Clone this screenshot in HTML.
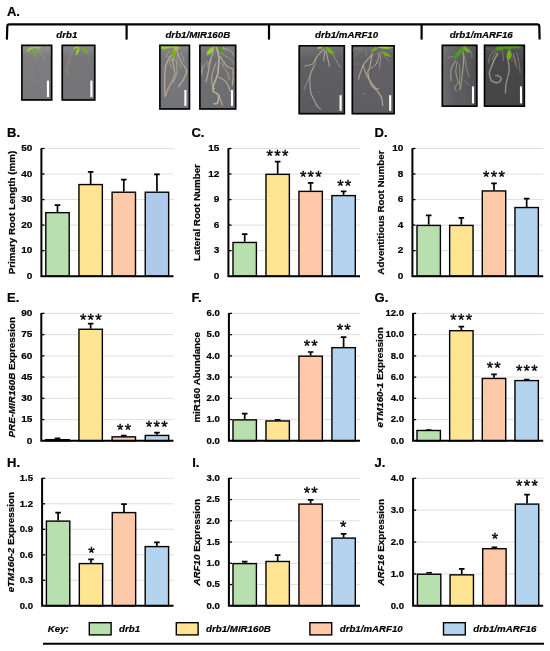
<!DOCTYPE html>
<html lang="en">
<head>
<meta charset="utf-8">
<title>Figure: drb1 root phenotypes and expression</title>
<style>
html,body{margin:0;padding:0;background:#fff;}
body{width:550px;height:651px;overflow:hidden;}
svg{display:block;}
text{font-family:"Liberation Sans",Arial,Helvetica,sans-serif;fill:#000;}
.b{font-weight:700;stroke:#000;stroke-width:0.2px;}
.bi{font-weight:700;font-style:italic;stroke:#000;stroke-width:0.2px;}
.r{font-weight:400;}
.st{font-weight:400;stroke:#000;stroke-width:0.35px;}
</style>
</head>
<body>
<svg width="550" height="651" viewBox="0 0 550 651">
<rect x="0" y="0" width="550" height="651" fill="#fff"/>
<text class="b" transform="translate(6.90,16.20) scale(1.0,1)" font-size="13.0" text-anchor="start">A.</text>
<path d="M6.9 39.6 L7.3 26.2 Q7.4 24.4 9.2 24.4 H537.4 Q539.2 24.4 539.3 26.2 L539.6 39.6" fill="none" stroke="#000" stroke-width="2.2"/>
<path d="M126.6 24.4 V39.6" stroke="#000" stroke-width="2.2" fill="none"/>
<path d="M269.0 24.4 V39.6" stroke="#000" stroke-width="2.2" fill="none"/>
<path d="M421.6 24.4 V39.6" stroke="#000" stroke-width="2.2" fill="none"/>
<text class="bi" transform="translate(66.80,38.40) scale(0.99,1)" font-size="9.8" text-anchor="middle">drb1</text>
<text class="bi" transform="translate(197.80,38.40) scale(0.99,1)" font-size="9.8" text-anchor="middle">drb1/MIR160B</text>
<text class="bi" transform="translate(346.60,38.40) scale(0.99,1)" font-size="9.8" text-anchor="middle">drb1/mARF10</text>
<text class="bi" transform="translate(481.20,38.40) scale(0.99,1)" font-size="9.8" text-anchor="middle">drb1/mARF16</text>
<defs>
<linearGradient id="pg0" x1="0" y1="0" x2="0" y2="1"><stop offset="0" stop-color="#939395"/><stop offset="0.22" stop-color="#7d7d80"/><stop offset="1" stop-color="#79797c"/></linearGradient>
<clipPath id="pc0"><rect x="21.1" y="44.6" width="31.30" height="56.10"/></clipPath>
<linearGradient id="pg1" x1="0" y1="0" x2="0" y2="1"><stop offset="0" stop-color="#8b8a8c"/><stop offset="0.22" stop-color="#767578"/><stop offset="1" stop-color="#747376"/></linearGradient>
<clipPath id="pc1"><rect x="61.5" y="44.6" width="34.00" height="56.10"/></clipPath>
<linearGradient id="pg2" x1="0" y1="0" x2="0" y2="1"><stop offset="0" stop-color="#87888b"/><stop offset="0.2" stop-color="#77787b"/><stop offset="1" stop-color="#737477"/></linearGradient>
<clipPath id="pc2"><rect x="159.1" y="44.6" width="31.10" height="65.10"/></clipPath>
<linearGradient id="pg3" x1="0" y1="0" x2="0" y2="1"><stop offset="0" stop-color="#7e7f82"/><stop offset="0.2" stop-color="#6f7074"/><stop offset="1" stop-color="#6c6d71"/></linearGradient>
<clipPath id="pc3"><rect x="199.1" y="44.6" width="37.30" height="65.10"/></clipPath>
<linearGradient id="pg4" x1="0" y1="0" x2="0" y2="1"><stop offset="0" stop-color="#757578"/><stop offset="0.2" stop-color="#606064"/><stop offset="1" stop-color="#5b5b5f"/></linearGradient>
<clipPath id="pc4"><rect x="298.5" y="45.0" width="46.60" height="69.40"/></clipPath>
<linearGradient id="pg5" x1="0" y1="0" x2="0" y2="1"><stop offset="0" stop-color="#717174"/><stop offset="0.2" stop-color="#626266"/><stop offset="1" stop-color="#5e5e62"/></linearGradient>
<clipPath id="pc5"><rect x="351.6" y="45.0" width="43.30" height="69.40"/></clipPath>
<linearGradient id="pg6" x1="0" y1="0" x2="0" y2="1"><stop offset="0" stop-color="#646568"/><stop offset="0.35" stop-color="#58595c"/><stop offset="1" stop-color="#5c5d5f"/></linearGradient>
<clipPath id="pc6"><rect x="441.6" y="44.6" width="35.90" height="62.30"/></clipPath>
<linearGradient id="pg7" x1="0" y1="0" x2="0" y2="1"><stop offset="0" stop-color="#56565a"/><stop offset="0.25" stop-color="#48484b"/><stop offset="1" stop-color="#454548"/></linearGradient>
<clipPath id="pc7"><rect x="483.8" y="44.6" width="41.30" height="62.30"/></clipPath>
<linearGradient id="hov" x1="0" y1="0" x2="1" y2="0"><stop offset="0" stop-color="#fff" stop-opacity="0.14"/><stop offset="0.45" stop-color="#888" stop-opacity="0"/><stop offset="1" stop-color="#000" stop-opacity="0.16"/></linearGradient>
<filter id="bl" x="-20%" y="-20%" width="140%" height="140%"><feTurbulence type="fractalNoise" baseFrequency="0.22" numOctaves="2" seed="7" result="n"/><feDisplacementMap in="SourceGraphic" in2="n" scale="1.8" xChannelSelector="R" yChannelSelector="G" result="d"/><feGaussianBlur in="d" stdDeviation="0.38"/></filter>
</defs>
<rect x="21.1" y="44.6" width="31.30" height="56.10" fill="url(#pg0)"/>
<g clip-path="url(#pc0)"><g transform="translate(21.1,44.6)" filter="url(#bl)">
<path d="M15.9 5 Q21.5 9 25.4 17.9" fill="none" stroke="#c4b396" stroke-width="0.70" stroke-opacity="0.45" stroke-linecap="round" stroke-linejoin="round"/>
<path d="M10.2 11.7 Q7.6 14 5.9 17.4" fill="none" stroke="#c4b396" stroke-width="0.60" stroke-opacity="0.35" stroke-linecap="round" stroke-linejoin="round"/>
<path d="M12.6 13 Q11.8 26 12.6 42" fill="none" stroke="#c4b396" stroke-width="0.50" stroke-opacity="0.15" stroke-linecap="round" stroke-linejoin="round"/>
<path d="M5.9 7.4 Q6.2 4.4 9.2 3 Q11.5 2.2 13 2.8 Q10 4.2 5.9 7.4Z" fill="#9ad22e" stroke="#9ad22e" stroke-width="0.7" stroke-linejoin="round"/>
<path d="M12.4 3.6 Q15.4 7.6 14.6 12.8 Q12.2 9.4 12.4 3.6Z" fill="#74b020" stroke="#74b020" stroke-width="0.7" stroke-linejoin="round"/>
<path d="M12.8 2.8 Q16.5 1.8 19.8 3.4 Q16.8 4.2 12.8 2.8Z" fill="#9ad22e" stroke="#9ad22e" stroke-width="0.7" stroke-linejoin="round"/>
</g></g>
<rect x="46.90" y="80.6" width="2.1" height="16.40" fill="#fff"/>
<rect x="21.90" y="45.40" width="29.70" height="54.50" fill="none" stroke="#050505" stroke-width="1.6"/>
<rect x="61.5" y="44.6" width="34.00" height="56.10" fill="url(#pg1)"/>
<g clip-path="url(#pc1)"><g transform="translate(61.5,44.6)" filter="url(#bl)">
<path d="M10.7 6.7 Q7 13 5.9 21 Q5.2 25 5.4 27.6 Q5.6 29 6.6 29.2" fill="none" stroke="#c4b396" stroke-width="0.80" stroke-opacity="0.45" stroke-linecap="round" stroke-linejoin="round"/>
<path d="M12.5 5 Q9.6 12 8.6 22" fill="none" stroke="#c4b396" stroke-width="0.50" stroke-opacity="0.22" stroke-linecap="round" stroke-linejoin="round"/>
<path d="M2.4 8 Q2.8 12 2.4 15" fill="none" stroke="#c4b396" stroke-width="0.50" stroke-opacity="0.20" stroke-linecap="round" stroke-linejoin="round"/>
<path d="M12 3.8 Q14 2 17.6 2 Q15.4 3.8 12 3.8Z" fill="#9ad22e" stroke="#9ad22e" stroke-width="0.7" stroke-linejoin="round"/>
<path d="M17.8 2.9 Q18 7 14.5 10.5 Q14.4 6 17.8 2.9Z" fill="#9ad22e" stroke="#9ad22e" stroke-width="0.7" stroke-linejoin="round"/>
<path d="M19.7 2.4 Q24.6 4 27.3 9.5 Q22.5 8 19.7 2.4Z" fill="#74b020" stroke="#74b020" stroke-width="0.7" stroke-linejoin="round"/>
</g></g>
<rect x="90.35" y="80.6" width="2.1" height="16.40" fill="#fff"/>
<rect x="62.30" y="45.40" width="32.40" height="54.50" fill="none" stroke="#050505" stroke-width="1.6"/>
<rect x="159.1" y="44.6" width="31.10" height="65.10" fill="url(#pg2)"/>
<g clip-path="url(#pc2)"><g transform="translate(159.1,44.6)" filter="url(#bl)">
<path d="M16 2.7 Q15.6 9 14.6 15.6" fill="none" stroke="#c4b396" stroke-width="1.60" stroke-opacity="0.90" stroke-linecap="round" stroke-linejoin="round"/>
<path d="M12.6 10.6 Q8.4 15 6.3 22 Q5.2 32 5.6 40.3 Q5.6 46 6.1 52" fill="none" stroke="#c4b396" stroke-width="1.20" stroke-opacity="0.90" stroke-linecap="round" stroke-linejoin="round"/>
<path d="M13.1 15 Q15.2 22 15.8 29.6 Q14 36 9.9 42.5 Q7.6 47 6.7 51" fill="none" stroke="#c4b396" stroke-width="1.20" stroke-opacity="0.85" stroke-linecap="round" stroke-linejoin="round"/>
<path d="M17.4 5 Q19 10 20.6 14 Q22 17 22.8 18.8 Q26 22 27.6 26.3 Q27 30 24.9 33.9 Q22.6 38 19.6 41.9" fill="none" stroke="#c4b396" stroke-width="1.30" stroke-opacity="0.85" stroke-linecap="round" stroke-linejoin="round"/>
<path d="M16.9 16 Q18.2 22 18 27.4 Q16.8 33 14.2 38.2" fill="none" stroke="#c4b396" stroke-width="1.00" stroke-opacity="0.75" stroke-linecap="round" stroke-linejoin="round"/>
<path d="M10.4 6.6 Q7.8 9 7 13" fill="none" stroke="#c4b396" stroke-width="0.90" stroke-opacity="0.60" stroke-linecap="round" stroke-linejoin="round"/>
<path d="M21.4 8 Q24.6 12 25.4 18" fill="none" stroke="#c4b396" stroke-width="0.90" stroke-opacity="0.60" stroke-linecap="round" stroke-linejoin="round"/>
<path d="M14.6 12 Q11.4 14 10.2 18 Q11.6 22 13.4 24" fill="none" stroke="#c4b396" stroke-width="0.90" stroke-opacity="0.70" stroke-linecap="round" stroke-linejoin="round"/>
<path d="M18.4 10 Q17 14 18.6 18 Q21 20 22 24" fill="none" stroke="#c4b396" stroke-width="0.90" stroke-opacity="0.65" stroke-linecap="round" stroke-linejoin="round"/>
<path d="M9 13 Q10.8 11 12.6 10.6" fill="none" stroke="#c4b396" stroke-width="0.90" stroke-opacity="0.65" stroke-linecap="round" stroke-linejoin="round"/>
<path d="M1.6 2.6 Q2.4 1.2 6 1.6 Q9 2 13.1 1.8 Q17 1.2 19.6 2.2 Q20.6 4 18.4 4.6 Q16.6 3.2 13 3 Q8 3.2 5.6 4.4 Q2.6 4.6 1.6 2.6Z" fill="#9ad22e" stroke="#9ad22e" stroke-width="0.7" stroke-linejoin="round"/>
<path d="M13.2 5.2 Q16.4 5.6 16.4 9.2 Q15.8 12.8 14.4 13.8 Q12.4 10 13.2 5.2Z" fill="#74b020" stroke="#74b020" stroke-width="0.7" stroke-linejoin="round"/>
</g></g>
<rect x="184.35" y="90.0" width="2.1" height="16.00" fill="#fff"/>
<rect x="159.90" y="45.40" width="29.50" height="63.50" fill="none" stroke="#050505" stroke-width="1.6"/>
<rect x="199.1" y="44.6" width="37.30" height="65.10" fill="url(#pg3)"/>
<g clip-path="url(#pc3)"><g transform="translate(199.1,44.6)" filter="url(#bl)">
<path d="M17.2 2.7 Q19.6 8 19.9 13.4 Q19.6 21 18.8 28.5 Q17 35 14.5 40.3 Q13.6 44 14 46.8 Q17.4 48 19.9 51 Q19.6 55 18.3 58.6 Q16.4 59.6 15 59" fill="none" stroke="#c4b396" stroke-width="1.60" stroke-opacity="0.92" stroke-linecap="round" stroke-linejoin="round"/>
<path d="M19.9 51 Q22 56 23.1 60.8" fill="none" stroke="#c4b396" stroke-width="1.20" stroke-opacity="0.80" stroke-linecap="round" stroke-linejoin="round"/>
<path d="M14.6 5 Q11 16 9.7 24.2 Q8.6 31 7 37" fill="none" stroke="#c4b396" stroke-width="1.20" stroke-opacity="0.85" stroke-linecap="round" stroke-linejoin="round"/>
<path d="M8.6 16.7 Q5 20 3.2 24.2 Q2.6 28 2.7 30.6" fill="none" stroke="#c4b396" stroke-width="1.00" stroke-opacity="0.75" stroke-linecap="round" stroke-linejoin="round"/>
<path d="M16.7 18.8 Q13.6 26 12.4 32.8 Q12.6 39 14 44.6" fill="none" stroke="#c4b396" stroke-width="1.10" stroke-opacity="0.80" stroke-linecap="round" stroke-linejoin="round"/>
<path d="M21 12 Q24 18 28 22 Q31 24 33.9 24.2 Q34.4 32 33.3 40.3" fill="none" stroke="#c4b396" stroke-width="1.20" stroke-opacity="0.85" stroke-linecap="round" stroke-linejoin="round"/>
<path d="M23.7 3.8 Q28 4 31.2 5.9 Q33.6 8 35 11.3" fill="none" stroke="#c4b396" stroke-width="1.00" stroke-opacity="0.75" stroke-linecap="round" stroke-linejoin="round"/>
<path d="M19.4 32.8 Q23.6 34 26.9 37 Q29.6 41 31.2 46.8" fill="none" stroke="#c4b396" stroke-width="1.10" stroke-opacity="0.80" stroke-linecap="round" stroke-linejoin="round"/>
<path d="M22.6 18.8 Q26 24 29 29.6 Q30 33 30.2 35" fill="none" stroke="#c4b396" stroke-width="1.00" stroke-opacity="0.70" stroke-linecap="round" stroke-linejoin="round"/>
<path d="M2 18 Q3 22 2.2 27" fill="none" stroke="#c4b396" stroke-width="0.90" stroke-opacity="0.55" stroke-linecap="round" stroke-linejoin="round"/>
<path d="M21 8 Q26 12 31 14 Q34 16 35 20" fill="none" stroke="#c4b396" stroke-width="0.90" stroke-opacity="0.60" stroke-linecap="round" stroke-linejoin="round"/>
<path d="M12 14 Q9 18 8.4 22" fill="none" stroke="#c4b396" stroke-width="0.90" stroke-opacity="0.60" stroke-linecap="round" stroke-linejoin="round"/>
<path d="M8 10.4 Q7.2 5.6 14.7 1.8 Q15 7.6 8 10.4Z" fill="#9ad22e" stroke="#9ad22e" stroke-width="0.7" stroke-linejoin="round"/>
<path d="M19.9 2.6 Q24.2 3.4 24 8.4 Q20 7.2 19.9 2.6Z" fill="#4f9a1c" stroke="#4f9a1c" stroke-width="0.7" stroke-linejoin="round"/>
</g></g>
<rect x="230.95" y="90.0" width="2.1" height="16.00" fill="#fff"/>
<rect x="199.90" y="45.40" width="35.70" height="63.50" fill="none" stroke="#050505" stroke-width="1.6"/>
<rect x="298.5" y="45.0" width="46.60" height="69.40" fill="url(#pg4)"/>
<g clip-path="url(#pc4)"><g transform="translate(298.5,45.0)" filter="url(#bl)">
<path d="M25.1 3.8 Q21.6 8 18.2 11.9 Q16 15 14.8 18.8" fill="none" stroke="#bbad97" stroke-width="1.10" stroke-opacity="0.85" stroke-linecap="round" stroke-linejoin="round"/>
<path d="M14.8 18.8 Q10 20.6 6.1 21.1" fill="none" stroke="#bbad97" stroke-width="1.00" stroke-opacity="0.80" stroke-linecap="round" stroke-linejoin="round"/>
<path d="M15.9 20 Q13 26 11.3 31.5 Q11 40 12.5 48.8 Q15.6 56 20 62.6 Q21 63.4 22.2 64" fill="none" stroke="#bbad97" stroke-width="1.10" stroke-opacity="0.85" stroke-linecap="round" stroke-linejoin="round"/>
<path d="M11.3 31.5 Q8 38 5.5 44.2" fill="none" stroke="#bbad97" stroke-width="0.90" stroke-opacity="0.70" stroke-linecap="round" stroke-linejoin="round"/>
<path d="M26.3 5 Q25.6 11 25.1 16.5" fill="none" stroke="#bbad97" stroke-width="1.10" stroke-opacity="0.85" stroke-linecap="round" stroke-linejoin="round"/>
<path d="M27.5 6.1 Q29.4 14 30.9 21.1" fill="none" stroke="#bbad97" stroke-width="1.10" stroke-opacity="0.85" stroke-linecap="round" stroke-linejoin="round"/>
<path d="M34.4 9.6 Q38 16 41.9 22.3" fill="none" stroke="#bbad97" stroke-width="0.90" stroke-opacity="0.75" stroke-linecap="round" stroke-linejoin="round"/>
<path d="M18 13 Q16.6 16 17.4 19" fill="none" stroke="#bbad97" stroke-width="0.80" stroke-opacity="0.60" stroke-linecap="round" stroke-linejoin="round"/>
<path d="M18.8 3.2 Q20.6 1.2 25.1 1.5 Q22.8 4 18.8 3.2Z" fill="#9ad22e" stroke="#9ad22e" stroke-width="0.7" stroke-linejoin="round"/>
<path d="M26.5 1.8 Q31 1.8 35.6 8.2 Q33 9.4 30 7 Q27.6 4.6 26.5 1.8Z" fill="#74b020" stroke="#74b020" stroke-width="0.7" stroke-linejoin="round"/>
</g></g>
<rect x="339.55" y="95.2" width="2.1" height="15.60" fill="#fff"/>
<rect x="299.30" y="45.80" width="45.00" height="67.80" fill="none" stroke="#050505" stroke-width="1.6"/>
<rect x="351.6" y="45.0" width="43.30" height="69.40" fill="url(#pg5)"/>
<g clip-path="url(#pc5)"><g transform="translate(351.6,45.0)" filter="url(#bl)">
<path d="M21.3 8.7 Q16 14 11.5 20.2 Q8.6 27 6.9 34" fill="none" stroke="#bbad97" stroke-width="1.20" stroke-opacity="0.85" stroke-linecap="round" stroke-linejoin="round"/>
<path d="M20.2 9.8 Q19.2 17 17.9 23.6 Q16.4 25.6 16.1 27.1 Q17 34 19.6 39.8 Q22 43 25.4 45.6 Q28 49 30 52.5 Q30.8 57 31.1 60.6" fill="none" stroke="#bbad97" stroke-width="1.20" stroke-opacity="0.90" stroke-linecap="round" stroke-linejoin="round"/>
<path d="M11.5 20.2 Q13 26 15 30.6 Q19 37 24.2 43.3 Q25.6 43.8 26.8 43.6" fill="none" stroke="#bbad97" stroke-width="1.10" stroke-opacity="0.85" stroke-linecap="round" stroke-linejoin="round"/>
<path d="M27.7 7.5 Q27 13 25.4 17.9 Q23 21 19.6 23.6" fill="none" stroke="#bbad97" stroke-width="1.00" stroke-opacity="0.80" stroke-linecap="round" stroke-linejoin="round"/>
<path d="M29.4 8.7 Q28.6 16 27.7 23.6" fill="none" stroke="#bbad97" stroke-width="0.90" stroke-opacity="0.70" stroke-linecap="round" stroke-linejoin="round"/>
<path d="M2.2 4 Q6 3.6 10.4 2.8" fill="none" stroke="#bbad97" stroke-width="0.70" stroke-opacity="0.40" stroke-linecap="round" stroke-linejoin="round"/>
<path d="M2.2 12 Q6 8 9.2 4" fill="none" stroke="#bbad97" stroke-width="0.70" stroke-opacity="0.40" stroke-linecap="round" stroke-linejoin="round"/>
<path d="M2.2 19 Q4.6 19.2 7 19" fill="none" stroke="#bbad97" stroke-width="0.70" stroke-opacity="0.35" stroke-linecap="round" stroke-linejoin="round"/>
<path d="M14 4 Q14.4 8 15 11" fill="none" stroke="#bbad97" stroke-width="0.70" stroke-opacity="0.40" stroke-linecap="round" stroke-linejoin="round"/>
<path d="M32 11 Q35 13 37.4 16" fill="none" stroke="#bbad97" stroke-width="0.80" stroke-opacity="0.55" stroke-linecap="round" stroke-linejoin="round"/>
<circle cx="12.1" cy="49" r="0.8" fill="#c4b396" fill-opacity="0.7"/>
<path d="M19.6 6.2 Q21 3 26 2.8 Q24.4 6.2 19.6 6.2Z" fill="#74b020" stroke="#74b020" stroke-width="0.7" stroke-linejoin="round"/>
<path d="M26.5 2.2 Q33 0.8 41.2 2.6 Q34 4.6 26.5 2.2Z" fill="#9ad22e" stroke="#9ad22e" stroke-width="0.7" stroke-linejoin="round"/>
<path d="M30 6.6 Q35 7 39.4 11.6 Q33.4 11.4 30 6.6Z" fill="#74b020" stroke="#74b020" stroke-width="0.7" stroke-linejoin="round"/>
<path d="M1.4 4 Q2.6 5 1.6 6.6Z" fill="#74b020" stroke="#74b020" stroke-width="0.7" stroke-linejoin="round"/>
</g></g>
<rect x="389.15" y="95.2" width="2.1" height="15.60" fill="#fff"/>
<rect x="352.40" y="45.80" width="41.70" height="67.80" fill="none" stroke="#050505" stroke-width="1.6"/>
<rect x="441.6" y="44.6" width="35.90" height="62.30" fill="url(#pg6)"/>
<rect x="441.6" y="44.6" width="35.90" height="62.30" fill="url(#hov)"/>
<g clip-path="url(#pc6)"><g transform="translate(441.6,44.6)" filter="url(#bl)">
<path d="M21.4 6.8 Q22.2 12 21.9 18.3 Q21.4 25 20.4 31.9 Q19.6 38 18.8 44.4" fill="none" stroke="#b3a792" stroke-width="1.10" stroke-opacity="0.85" stroke-linecap="round" stroke-linejoin="round"/>
<path d="M14.1 16.2 Q11 20 9.4 24.6 Q8.8 30 9.4 36" fill="none" stroke="#b3a792" stroke-width="1.10" stroke-opacity="0.80" stroke-linecap="round" stroke-linejoin="round"/>
<path d="M15.7 17.2 Q14.4 22 14.1 27.7 Q15 33 16.7 37.1 Q15 40 13.2 43 Q13.6 45 14.6 46.5" fill="none" stroke="#b3a792" stroke-width="1.00" stroke-opacity="0.80" stroke-linecap="round" stroke-linejoin="round"/>
<path d="M22.5 11 Q24 17 24.6 23.5 Q26 28 27.7 31.9" fill="none" stroke="#b3a792" stroke-width="0.90" stroke-opacity="0.70" stroke-linecap="round" stroke-linejoin="round"/>
<path d="M24.6 4.7 Q28 5.6 29.8 7.8 Q30.6 10 30.3 13" fill="none" stroke="#b3a792" stroke-width="0.80" stroke-opacity="0.60" stroke-linecap="round" stroke-linejoin="round"/>
<path d="M6.8 13 Q9.4 12 12 12" fill="none" stroke="#b3a792" stroke-width="0.80" stroke-opacity="0.55" stroke-linecap="round" stroke-linejoin="round"/>
<path d="M22.5 36 Q25 38 27.7 40.2" fill="none" stroke="#b3a792" stroke-width="0.80" stroke-opacity="0.55" stroke-linecap="round" stroke-linejoin="round"/>
<path d="M17.8 20 Q19 30 17.6 40" fill="none" stroke="#b3a792" stroke-width="0.90" stroke-opacity="0.65" stroke-linecap="round" stroke-linejoin="round"/>
<path d="M18 38 Q18.6 42 18.2 46" fill="none" stroke="#b3a792" stroke-width="0.80" stroke-opacity="0.60" stroke-linecap="round" stroke-linejoin="round"/>
<path d="M13 14.8 Q12.4 10 17 6 Q20 3.6 22.4 3 Q21 8.6 13 14.8Z" fill="#4f9a1c" stroke="#4f9a1c" stroke-width="0.7" stroke-linejoin="round"/>
<path d="M20.9 2 Q25 2.4 28.9 7.2 Q26 8.4 23.4 6 Q21.6 4 20.9 2Z" fill="#74b020" stroke="#74b020" stroke-width="0.7" stroke-linejoin="round"/>
</g></g>
<rect x="471.95" y="86.4" width="2.1" height="17.00" fill="#fff"/>
<rect x="442.40" y="45.40" width="34.30" height="60.70" fill="none" stroke="#050505" stroke-width="1.6"/>
<rect x="483.8" y="44.6" width="41.30" height="62.30" fill="url(#pg7)"/>
<g clip-path="url(#pc7)"><g transform="translate(483.8,44.6)" filter="url(#bl)">
<path d="M13.9 8.9 Q10 15 7.6 22.4 Q5.8 25.6 5.5 28.7 Q5.8 33 7.6 36 Q10.6 38.4 13.9 38.1 Q16.8 37 17.5 35 Q17.6 33.4 16.5 32.4 Q14 31 11.8 30.8" fill="none" stroke="#a99d8a" stroke-width="1.40" stroke-opacity="0.85" stroke-linecap="round" stroke-linejoin="round"/>
<path d="M24.3 16.2 Q25.4 21 25.4 26.6 Q24 33 22.2 39.1 Q21.6 44 21.7 48.5" fill="none" stroke="#a99d8a" stroke-width="1.30" stroke-opacity="0.85" stroke-linecap="round" stroke-linejoin="round"/>
<path d="M9.7 6.8 Q6.8 9.6 5.5 13 Q4.8 16 5 18.3" fill="none" stroke="#a99d8a" stroke-width="1.00" stroke-opacity="0.65" stroke-linecap="round" stroke-linejoin="round"/>
<path d="M11.8 7.8 Q9.4 11 8.1 15.1" fill="none" stroke="#a99d8a" stroke-width="1.00" stroke-opacity="0.65" stroke-linecap="round" stroke-linejoin="round"/>
<path d="M29.5 8.9 Q31 14 31.6 20.4" fill="none" stroke="#a99d8a" stroke-width="1.00" stroke-opacity="0.65" stroke-linecap="round" stroke-linejoin="round"/>
<path d="M32.7 7.8 Q34.2 11 34.8 15.1 Q36 21 36.3 27.7" fill="none" stroke="#a99d8a" stroke-width="0.90" stroke-opacity="0.55" stroke-linecap="round" stroke-linejoin="round"/>
<path d="M18.6 6.8 Q19.4 11 19.6 16.2" fill="none" stroke="#a99d8a" stroke-width="0.90" stroke-opacity="0.60" stroke-linecap="round" stroke-linejoin="round"/>
<path d="M27.6 9 Q28.6 13 28.2 17" fill="none" stroke="#a99d8a" stroke-width="0.90" stroke-opacity="0.55" stroke-linecap="round" stroke-linejoin="round"/>
<path d="M3 3.6 Q8 5.6 13 6.4" fill="none" stroke="#a99d8a" stroke-width="0.80" stroke-opacity="0.45" stroke-linecap="round" stroke-linejoin="round"/>
<path d="M30.4 12 Q33 18 33.4 24" fill="none" stroke="#a99d8a" stroke-width="0.80" stroke-opacity="0.45" stroke-linecap="round" stroke-linejoin="round"/>
<path d="M11.6 4.4 Q13 1.6 17 1.8 Q20.6 2 21.4 3.4 Q19 5.6 15.6 5.6 Q12.6 5.8 11.6 4.4Z" fill="#4f9a1c" stroke="#4f9a1c" stroke-width="0.7" stroke-linejoin="round"/>
<path d="M20.4 1.8 Q24 0.4 29 1.2 Q34 0.6 37.2 2 Q35 3.8 30 3.4 Q26 5 22.6 4.2 Q20.6 3.4 20.4 1.8Z" fill="#4f9a1c" stroke="#4f9a1c" stroke-width="0.7" stroke-linejoin="round"/>
<path d="M25.6 4.8 Q28.4 9 26.6 13.4 Q25.4 15.6 24 15.4 Q22.2 12 23.6 8.6 Q24.6 6.4 25.6 4.8Z" fill="#74b020" stroke="#74b020" stroke-width="0.7" stroke-linejoin="round"/>
</g></g>
<rect x="519.95" y="86.4" width="2.1" height="17.00" fill="#fff"/>
<rect x="484.60" y="45.40" width="39.70" height="60.70" fill="none" stroke="#050505" stroke-width="1.6"/>
<text class="b" transform="translate(7.00,137.20) scale(1.0,1)" font-size="13.0" text-anchor="start">B.</text>
<path d="M41.4 250.66 H173.5" stroke="#dbdbdb" stroke-width="0.9" fill="none"/>
<path d="M41.4 225.12 H173.5" stroke="#dbdbdb" stroke-width="0.9" fill="none"/>
<path d="M41.4 199.58 H173.5" stroke="#dbdbdb" stroke-width="0.9" fill="none"/>
<path d="M41.4 174.04 H173.5" stroke="#dbdbdb" stroke-width="0.9" fill="none"/>
<path d="M41.4 148.50 H173.5" stroke="#dbdbdb" stroke-width="0.9" fill="none"/>
<path d="M57.50 212.05 V204.39 M54.70 205.09 H60.30" stroke="#000" stroke-width="1.7" fill="none"/>
<rect x="45.80" y="212.65" width="23.4" height="63.55" fill="#b7e0ae" stroke="#000" stroke-width="1.4"/>
<path d="M90.65 183.96 V171.19 M87.85 171.89 H93.45" stroke="#000" stroke-width="1.7" fill="none"/>
<rect x="78.95" y="184.56" width="23.4" height="91.64" fill="#ffe591" stroke="#000" stroke-width="1.4"/>
<path d="M123.80 191.62 V178.85 M121.00 179.55 H126.60" stroke="#000" stroke-width="1.7" fill="none"/>
<rect x="112.10" y="192.22" width="23.4" height="83.98" fill="#fdc9a9" stroke="#000" stroke-width="1.4"/>
<path d="M156.95 191.62 V173.74 M154.15 174.44 H159.75" stroke="#000" stroke-width="1.7" fill="none"/>
<rect x="145.25" y="192.22" width="23.4" height="83.98" fill="#aec9ea" stroke="#000" stroke-width="1.4"/>
<path d="M41.4 148.20 V276.20 H173.5" stroke="#000" stroke-width="2.0" fill="none" stroke-linejoin="miter"/>
<text class="b" transform="translate(32.40,278.95) scale(1.14,1)" font-size="8.8" text-anchor="end">0</text>
<path d="M41.4 250.66 h3.1" stroke="#000" stroke-width="1.3" fill="none"/>
<text class="b" transform="translate(32.40,253.41) scale(1.14,1)" font-size="8.8" text-anchor="end">10</text>
<path d="M41.4 225.12 h3.1" stroke="#000" stroke-width="1.3" fill="none"/>
<text class="b" transform="translate(32.40,227.87) scale(1.14,1)" font-size="8.8" text-anchor="end">20</text>
<path d="M41.4 199.58 h3.1" stroke="#000" stroke-width="1.3" fill="none"/>
<text class="b" transform="translate(32.40,202.33) scale(1.14,1)" font-size="8.8" text-anchor="end">30</text>
<path d="M41.4 174.04 h3.1" stroke="#000" stroke-width="1.3" fill="none"/>
<text class="b" transform="translate(32.40,176.79) scale(1.14,1)" font-size="8.8" text-anchor="end">40</text>
<path d="M41.4 148.50 h3.1" stroke="#000" stroke-width="1.3" fill="none"/>
<text class="b" transform="translate(32.40,151.25) scale(1.14,1)" font-size="8.8" text-anchor="end">50</text>
<text class="b" transform="translate(14.60,212.55) rotate(-90) scale(1.14,1)" font-size="8.6" text-anchor="middle">Primary Root Length (mm)</text>
<text class="b" transform="translate(191.40,137.20) scale(1.0,1)" font-size="13.0" text-anchor="start">C.</text>
<path d="M228.4 250.66 H360.0" stroke="#dbdbdb" stroke-width="0.9" fill="none"/>
<path d="M228.4 225.12 H360.0" stroke="#dbdbdb" stroke-width="0.9" fill="none"/>
<path d="M228.4 199.58 H360.0" stroke="#dbdbdb" stroke-width="0.9" fill="none"/>
<path d="M228.4 174.04 H360.0" stroke="#dbdbdb" stroke-width="0.9" fill="none"/>
<path d="M228.4 148.50 H360.0" stroke="#dbdbdb" stroke-width="0.9" fill="none"/>
<path d="M244.70 241.85 V233.33 M241.90 234.03 H247.50" stroke="#000" stroke-width="1.7" fill="none"/>
<rect x="233.00" y="242.45" width="23.4" height="33.75" fill="#b7e0ae" stroke="#000" stroke-width="1.4"/>
<path d="M277.67 173.74 V160.97 M274.87 161.67 H280.47" stroke="#000" stroke-width="1.7" fill="none"/>
<rect x="265.97" y="174.34" width="23.4" height="101.86" fill="#ffe591" stroke="#000" stroke-width="1.4"/>
<text class="st" x="266.60 274.30 282.00" y="161.98" font-size="16.5">***</text>
<path d="M310.64 190.77 V182.25 M307.84 182.95 H313.44" stroke="#000" stroke-width="1.7" fill="none"/>
<rect x="298.94" y="191.37" width="23.4" height="84.83" fill="#fdc9a9" stroke="#000" stroke-width="1.4"/>
<text class="st" x="299.90 307.60 315.30" y="182.98" font-size="16.5">***</text>
<path d="M343.61 195.02 V190.77 M340.81 191.47 H346.41" stroke="#000" stroke-width="1.7" fill="none"/>
<rect x="331.91" y="195.62" width="23.4" height="80.58" fill="#b3d3ef" stroke="#000" stroke-width="1.4"/>
<text class="st" x="337.15 344.85" y="191.98" font-size="16.5">**</text>
<path d="M228.4 148.20 V276.20 H360.0" stroke="#000" stroke-width="2.0" fill="none" stroke-linejoin="miter"/>
<text class="b" transform="translate(219.40,278.95) scale(1.14,1)" font-size="8.8" text-anchor="end">0</text>
<path d="M228.4 250.66 h3.1" stroke="#000" stroke-width="1.3" fill="none"/>
<text class="b" transform="translate(219.40,253.41) scale(1.14,1)" font-size="8.8" text-anchor="end">3</text>
<path d="M228.4 225.12 h3.1" stroke="#000" stroke-width="1.3" fill="none"/>
<text class="b" transform="translate(219.40,227.87) scale(1.14,1)" font-size="8.8" text-anchor="end">6</text>
<path d="M228.4 199.58 h3.1" stroke="#000" stroke-width="1.3" fill="none"/>
<text class="b" transform="translate(219.40,202.33) scale(1.14,1)" font-size="8.8" text-anchor="end">9</text>
<path d="M228.4 174.04 h3.1" stroke="#000" stroke-width="1.3" fill="none"/>
<text class="b" transform="translate(219.40,176.79) scale(1.14,1)" font-size="8.8" text-anchor="end">12</text>
<path d="M228.4 148.50 h3.1" stroke="#000" stroke-width="1.3" fill="none"/>
<text class="b" transform="translate(219.40,151.25) scale(1.14,1)" font-size="8.8" text-anchor="end">15</text>
<text class="b" transform="translate(200.00,212.55) rotate(-90) scale(1.14,1)" font-size="8.6" text-anchor="middle">Lateral Root Number</text>
<text class="b" transform="translate(374.60,137.20) scale(1.0,1)" font-size="13.0" text-anchor="start">D.</text>
<path d="M412.4 250.66 H543.2" stroke="#dbdbdb" stroke-width="0.9" fill="none"/>
<path d="M412.4 225.12 H543.2" stroke="#dbdbdb" stroke-width="0.9" fill="none"/>
<path d="M412.4 199.58 H543.2" stroke="#dbdbdb" stroke-width="0.9" fill="none"/>
<path d="M412.4 174.04 H543.2" stroke="#dbdbdb" stroke-width="0.9" fill="none"/>
<path d="M412.4 148.50 H543.2" stroke="#dbdbdb" stroke-width="0.9" fill="none"/>
<path d="M428.70 224.82 V214.60 M425.90 215.30 H431.50" stroke="#000" stroke-width="1.7" fill="none"/>
<rect x="417.00" y="225.42" width="23.4" height="50.78" fill="#b7e0ae" stroke="#000" stroke-width="1.4"/>
<path d="M461.35 224.82 V217.16 M458.55 217.86 H464.15" stroke="#000" stroke-width="1.7" fill="none"/>
<rect x="449.65" y="225.42" width="23.4" height="50.78" fill="#ffe591" stroke="#000" stroke-width="1.4"/>
<path d="M494.00 190.34 V182.68 M491.20 183.38 H496.80" stroke="#000" stroke-width="1.7" fill="none"/>
<rect x="482.30" y="190.94" width="23.4" height="85.26" fill="#fdc9a9" stroke="#000" stroke-width="1.4"/>
<text class="st" x="483.10 490.80 498.50" y="182.58" font-size="16.5">***</text>
<path d="M526.65 206.94 V198.00 M523.85 198.70 H529.45" stroke="#000" stroke-width="1.7" fill="none"/>
<rect x="514.95" y="207.54" width="23.4" height="68.66" fill="#b3d3ef" stroke="#000" stroke-width="1.4"/>
<path d="M412.4 148.20 V276.20 H543.2" stroke="#000" stroke-width="2.0" fill="none" stroke-linejoin="miter"/>
<text class="b" transform="translate(403.40,278.95) scale(1.14,1)" font-size="8.8" text-anchor="end">0</text>
<path d="M412.4 250.66 h3.1" stroke="#000" stroke-width="1.3" fill="none"/>
<text class="b" transform="translate(403.40,253.41) scale(1.14,1)" font-size="8.8" text-anchor="end">2</text>
<path d="M412.4 225.12 h3.1" stroke="#000" stroke-width="1.3" fill="none"/>
<text class="b" transform="translate(403.40,227.87) scale(1.14,1)" font-size="8.8" text-anchor="end">4</text>
<path d="M412.4 199.58 h3.1" stroke="#000" stroke-width="1.3" fill="none"/>
<text class="b" transform="translate(403.40,202.33) scale(1.14,1)" font-size="8.8" text-anchor="end">6</text>
<path d="M412.4 174.04 h3.1" stroke="#000" stroke-width="1.3" fill="none"/>
<text class="b" transform="translate(403.40,176.79) scale(1.14,1)" font-size="8.8" text-anchor="end">8</text>
<path d="M412.4 148.50 h3.1" stroke="#000" stroke-width="1.3" fill="none"/>
<text class="b" transform="translate(403.40,151.25) scale(1.14,1)" font-size="8.8" text-anchor="end">10</text>
<text class="b" transform="translate(383.90,212.55) rotate(-90) scale(1.14,1)" font-size="8.6" text-anchor="middle">Adventitious Root Number</text>
<text class="b" transform="translate(7.00,302.20) scale(1.0,1)" font-size="13.0" text-anchor="start">E.</text>
<path d="M41.3 419.57 H173.5" stroke="#dbdbdb" stroke-width="0.9" fill="none"/>
<path d="M41.3 398.33 H173.5" stroke="#dbdbdb" stroke-width="0.9" fill="none"/>
<path d="M41.3 377.10 H173.5" stroke="#dbdbdb" stroke-width="0.9" fill="none"/>
<path d="M41.3 355.87 H173.5" stroke="#dbdbdb" stroke-width="0.9" fill="none"/>
<path d="M41.3 334.63 H173.5" stroke="#dbdbdb" stroke-width="0.9" fill="none"/>
<path d="M41.3 313.40 H173.5" stroke="#dbdbdb" stroke-width="0.9" fill="none"/>
<path d="M57.50 439.08 V437.67 M54.70 438.37 H60.30" stroke="#000" stroke-width="1.7" fill="none"/>
<rect x="45.80" y="439.68" width="23.4" height="1.12" fill="#b7e0ae" stroke="#000" stroke-width="1.4"/>
<path d="M90.65 328.67 V323.01 M87.85 323.71 H93.45" stroke="#000" stroke-width="1.7" fill="none"/>
<rect x="78.95" y="329.27" width="23.4" height="111.53" fill="#ffe591" stroke="#000" stroke-width="1.4"/>
<text class="st" x="79.90 87.60 95.30" y="326.18" font-size="16.5">***</text>
<path d="M123.80 436.25 V434.84 M121.00 435.54 H126.60" stroke="#000" stroke-width="1.7" fill="none"/>
<rect x="112.10" y="436.85" width="23.4" height="3.95" fill="#fdc9a9" stroke="#000" stroke-width="1.4"/>
<text class="st" x="116.95 124.65" y="436.18" font-size="16.5">**</text>
<path d="M156.95 434.84 V432.01 M154.15 432.71 H159.75" stroke="#000" stroke-width="1.7" fill="none"/>
<rect x="145.25" y="435.44" width="23.4" height="5.36" fill="#b3d3ef" stroke="#000" stroke-width="1.4"/>
<text class="st" x="145.80 153.50 161.20" y="432.98" font-size="16.5">***</text>
<path d="M41.3 313.10 V440.80 H173.5" stroke="#000" stroke-width="2.0" fill="none" stroke-linejoin="miter"/>
<text class="b" transform="translate(32.30,443.55) scale(1.14,1)" font-size="8.8" text-anchor="end">0</text>
<path d="M41.3 419.57 h3.1" stroke="#000" stroke-width="1.3" fill="none"/>
<text class="b" transform="translate(32.30,422.32) scale(1.14,1)" font-size="8.8" text-anchor="end">15</text>
<path d="M41.3 398.33 h3.1" stroke="#000" stroke-width="1.3" fill="none"/>
<text class="b" transform="translate(32.30,401.08) scale(1.14,1)" font-size="8.8" text-anchor="end">30</text>
<path d="M41.3 377.10 h3.1" stroke="#000" stroke-width="1.3" fill="none"/>
<text class="b" transform="translate(32.30,379.85) scale(1.14,1)" font-size="8.8" text-anchor="end">45</text>
<path d="M41.3 355.87 h3.1" stroke="#000" stroke-width="1.3" fill="none"/>
<text class="b" transform="translate(32.30,358.62) scale(1.14,1)" font-size="8.8" text-anchor="end">60</text>
<path d="M41.3 334.63 h3.1" stroke="#000" stroke-width="1.3" fill="none"/>
<text class="b" transform="translate(32.30,337.38) scale(1.14,1)" font-size="8.8" text-anchor="end">75</text>
<path d="M41.3 313.40 h3.1" stroke="#000" stroke-width="1.3" fill="none"/>
<text class="b" transform="translate(32.30,316.15) scale(1.14,1)" font-size="8.8" text-anchor="end">90</text>
<text class="b" transform="translate(14.50,377.30) rotate(-90) scale(1.14,1)" font-size="8.6" text-anchor="middle"><tspan font-style="italic">PRE-MIR160B</tspan> Expression</text>
<text class="b" transform="translate(191.40,302.20) scale(1.0,1)" font-size="13.0" text-anchor="start">F.</text>
<path d="M228.9 419.57 H360.0" stroke="#dbdbdb" stroke-width="0.9" fill="none"/>
<path d="M228.9 398.33 H360.0" stroke="#dbdbdb" stroke-width="0.9" fill="none"/>
<path d="M228.9 377.10 H360.0" stroke="#dbdbdb" stroke-width="0.9" fill="none"/>
<path d="M228.9 355.87 H360.0" stroke="#dbdbdb" stroke-width="0.9" fill="none"/>
<path d="M228.9 334.63 H360.0" stroke="#dbdbdb" stroke-width="0.9" fill="none"/>
<path d="M228.9 313.40 H360.0" stroke="#dbdbdb" stroke-width="0.9" fill="none"/>
<path d="M244.70 419.27 V412.90 M241.90 413.60 H247.50" stroke="#000" stroke-width="1.7" fill="none"/>
<rect x="233.00" y="419.87" width="23.4" height="20.93" fill="#b7e0ae" stroke="#000" stroke-width="1.4"/>
<path d="M277.67 420.33 V419.27 M274.87 419.97 H280.47" stroke="#000" stroke-width="1.7" fill="none"/>
<rect x="265.97" y="420.93" width="23.4" height="19.87" fill="#ffe591" stroke="#000" stroke-width="1.4"/>
<path d="M310.64 355.57 V351.32 M307.84 352.02 H313.44" stroke="#000" stroke-width="1.7" fill="none"/>
<rect x="298.94" y="356.17" width="23.4" height="84.63" fill="#fdc9a9" stroke="#000" stroke-width="1.4"/>
<text class="st" x="303.65 311.35" y="351.98" font-size="16.5">**</text>
<path d="M343.61 347.07 V336.46 M340.81 337.16 H346.41" stroke="#000" stroke-width="1.7" fill="none"/>
<rect x="331.91" y="347.67" width="23.4" height="93.13" fill="#b3d3ef" stroke="#000" stroke-width="1.4"/>
<text class="st" x="336.65 344.35" y="336.18" font-size="16.5">**</text>
<path d="M228.9 313.10 V440.80 H360.0" stroke="#000" stroke-width="2.0" fill="none" stroke-linejoin="miter"/>
<text class="b" transform="translate(219.90,443.55) scale(1.09,1)" font-size="8.8" text-anchor="end">0.0</text>
<path d="M228.9 419.57 h3.1" stroke="#000" stroke-width="1.3" fill="none"/>
<text class="b" transform="translate(219.90,422.32) scale(1.09,1)" font-size="8.8" text-anchor="end">1.0</text>
<path d="M228.9 398.33 h3.1" stroke="#000" stroke-width="1.3" fill="none"/>
<text class="b" transform="translate(219.90,401.08) scale(1.09,1)" font-size="8.8" text-anchor="end">2.0</text>
<path d="M228.9 377.10 h3.1" stroke="#000" stroke-width="1.3" fill="none"/>
<text class="b" transform="translate(219.90,379.85) scale(1.09,1)" font-size="8.8" text-anchor="end">3.0</text>
<path d="M228.9 355.87 h3.1" stroke="#000" stroke-width="1.3" fill="none"/>
<text class="b" transform="translate(219.90,358.62) scale(1.09,1)" font-size="8.8" text-anchor="end">4.0</text>
<path d="M228.9 334.63 h3.1" stroke="#000" stroke-width="1.3" fill="none"/>
<text class="b" transform="translate(219.90,337.38) scale(1.09,1)" font-size="8.8" text-anchor="end">5.0</text>
<path d="M228.9 313.40 h3.1" stroke="#000" stroke-width="1.3" fill="none"/>
<text class="b" transform="translate(219.90,316.15) scale(1.09,1)" font-size="8.8" text-anchor="end">6.0</text>
<text class="b" transform="translate(200.30,377.30) rotate(-90) scale(1.14,1)" font-size="8.6" text-anchor="middle">miR160 Abundance</text>
<text class="b" transform="translate(374.60,302.20) scale(1.0,1)" font-size="13.0" text-anchor="start">G.</text>
<path d="M413.1 419.57 H543.2" stroke="#dbdbdb" stroke-width="0.9" fill="none"/>
<path d="M413.1 398.33 H543.2" stroke="#dbdbdb" stroke-width="0.9" fill="none"/>
<path d="M413.1 377.10 H543.2" stroke="#dbdbdb" stroke-width="0.9" fill="none"/>
<path d="M413.1 355.87 H543.2" stroke="#dbdbdb" stroke-width="0.9" fill="none"/>
<path d="M413.1 334.63 H543.2" stroke="#dbdbdb" stroke-width="0.9" fill="none"/>
<path d="M413.1 313.40 H543.2" stroke="#dbdbdb" stroke-width="0.9" fill="none"/>
<path d="M428.70 429.88 V429.35 M425.90 430.05 H431.50" stroke="#000" stroke-width="1.7" fill="none"/>
<rect x="417.00" y="430.48" width="23.4" height="10.32" fill="#b7e0ae" stroke="#000" stroke-width="1.4"/>
<path d="M461.35 330.09 V325.84 M458.55 326.54 H464.15" stroke="#000" stroke-width="1.7" fill="none"/>
<rect x="449.65" y="330.69" width="23.4" height="110.11" fill="#ffe591" stroke="#000" stroke-width="1.4"/>
<text class="st" x="450.30 458.00 465.70" y="325.58" font-size="16.5">***</text>
<path d="M494.00 377.86 V373.61 M491.20 374.31 H496.80" stroke="#000" stroke-width="1.7" fill="none"/>
<rect x="482.30" y="378.46" width="23.4" height="62.34" fill="#fdc9a9" stroke="#000" stroke-width="1.4"/>
<text class="st" x="486.65 494.35" y="373.58" font-size="16.5">**</text>
<path d="M526.65 379.98 V378.92 M523.85 379.62 H529.45" stroke="#000" stroke-width="1.7" fill="none"/>
<rect x="514.95" y="380.58" width="23.4" height="60.22" fill="#b3d3ef" stroke="#000" stroke-width="1.4"/>
<text class="st" x="515.90 523.60 531.30" y="377.18" font-size="16.5">***</text>
<path d="M413.1 313.10 V440.80 H543.2" stroke="#000" stroke-width="2.0" fill="none" stroke-linejoin="miter"/>
<text class="b" transform="translate(404.10,443.55) scale(1.09,1)" font-size="8.8" text-anchor="end">0.0</text>
<path d="M413.1 419.57 h3.1" stroke="#000" stroke-width="1.3" fill="none"/>
<text class="b" transform="translate(404.10,422.32) scale(1.09,1)" font-size="8.8" text-anchor="end">2.0</text>
<path d="M413.1 398.33 h3.1" stroke="#000" stroke-width="1.3" fill="none"/>
<text class="b" transform="translate(404.10,401.08) scale(1.09,1)" font-size="8.8" text-anchor="end">4.0</text>
<path d="M413.1 377.10 h3.1" stroke="#000" stroke-width="1.3" fill="none"/>
<text class="b" transform="translate(404.10,379.85) scale(1.09,1)" font-size="8.8" text-anchor="end">6.0</text>
<path d="M413.1 355.87 h3.1" stroke="#000" stroke-width="1.3" fill="none"/>
<text class="b" transform="translate(404.10,358.62) scale(1.09,1)" font-size="8.8" text-anchor="end">8.0</text>
<path d="M413.1 334.63 h3.1" stroke="#000" stroke-width="1.3" fill="none"/>
<text class="b" transform="translate(404.10,337.38) scale(1.09,1)" font-size="8.8" text-anchor="end">10.0</text>
<path d="M413.1 313.40 h3.1" stroke="#000" stroke-width="1.3" fill="none"/>
<text class="b" transform="translate(404.10,316.15) scale(1.09,1)" font-size="8.8" text-anchor="end">12.0</text>
<text class="b" transform="translate(383.20,377.30) rotate(-90) scale(1.14,1)" font-size="8.6" text-anchor="middle"><tspan font-style="italic">eTM160-1</tspan> Expression</text>
<text class="b" transform="translate(7.00,467.20) scale(1.0,1)" font-size="13.0" text-anchor="start">H.</text>
<path d="M42.1 580.30 H173.5" stroke="#dbdbdb" stroke-width="0.9" fill="none"/>
<path d="M42.1 554.80 H173.5" stroke="#dbdbdb" stroke-width="0.9" fill="none"/>
<path d="M42.1 529.30 H173.5" stroke="#dbdbdb" stroke-width="0.9" fill="none"/>
<path d="M42.1 503.80 H173.5" stroke="#dbdbdb" stroke-width="0.9" fill="none"/>
<path d="M42.1 478.30 H173.5" stroke="#dbdbdb" stroke-width="0.9" fill="none"/>
<path d="M58.10 520.50 V512.00 M55.30 512.70 H60.90" stroke="#000" stroke-width="1.7" fill="none"/>
<rect x="46.40" y="521.10" width="23.4" height="84.70" fill="#b7e0ae" stroke="#000" stroke-width="1.4"/>
<path d="M91.03 563.00 V558.75 M88.23 559.45 H93.83" stroke="#000" stroke-width="1.7" fill="none"/>
<rect x="79.33" y="563.60" width="23.4" height="42.20" fill="#ffe591" stroke="#000" stroke-width="1.4"/>
<text class="st" x="88.20" y="558.58" font-size="16.5">*</text>
<path d="M123.96 512.00 V503.50 M121.16 504.20 H126.76" stroke="#000" stroke-width="1.7" fill="none"/>
<rect x="112.26" y="512.60" width="23.4" height="93.20" fill="#fdc9a9" stroke="#000" stroke-width="1.4"/>
<path d="M156.89 546.00 V541.75 M154.09 542.45 H159.69" stroke="#000" stroke-width="1.7" fill="none"/>
<rect x="145.19" y="546.60" width="23.4" height="59.20" fill="#b3d3ef" stroke="#000" stroke-width="1.4"/>
<path d="M42.1 478.00 V605.80 H173.5" stroke="#000" stroke-width="2.0" fill="none" stroke-linejoin="miter"/>
<text class="b" transform="translate(33.10,608.55) scale(1.09,1)" font-size="8.8" text-anchor="end">0.0</text>
<path d="M42.1 580.30 h3.1" stroke="#000" stroke-width="1.3" fill="none"/>
<text class="b" transform="translate(33.10,583.05) scale(1.09,1)" font-size="8.8" text-anchor="end">0.3</text>
<path d="M42.1 554.80 h3.1" stroke="#000" stroke-width="1.3" fill="none"/>
<text class="b" transform="translate(33.10,557.55) scale(1.09,1)" font-size="8.8" text-anchor="end">0.6</text>
<path d="M42.1 529.30 h3.1" stroke="#000" stroke-width="1.3" fill="none"/>
<text class="b" transform="translate(33.10,532.05) scale(1.09,1)" font-size="8.8" text-anchor="end">0.9</text>
<path d="M42.1 503.80 h3.1" stroke="#000" stroke-width="1.3" fill="none"/>
<text class="b" transform="translate(33.10,506.55) scale(1.09,1)" font-size="8.8" text-anchor="end">1.2</text>
<path d="M42.1 478.30 h3.1" stroke="#000" stroke-width="1.3" fill="none"/>
<text class="b" transform="translate(33.10,481.05) scale(1.09,1)" font-size="8.8" text-anchor="end">1.5</text>
<text class="b" transform="translate(14.00,542.25) rotate(-90) scale(1.14,1)" font-size="8.6" text-anchor="middle"><tspan font-style="italic">eTM160-2</tspan> Expression</text>
<text class="b" transform="translate(192.20,467.20) scale(1.0,1)" font-size="13.0" text-anchor="start">I.</text>
<path d="M228.9 584.55 H360.0" stroke="#dbdbdb" stroke-width="0.9" fill="none"/>
<path d="M228.9 563.30 H360.0" stroke="#dbdbdb" stroke-width="0.9" fill="none"/>
<path d="M228.9 542.05 H360.0" stroke="#dbdbdb" stroke-width="0.9" fill="none"/>
<path d="M228.9 520.80 H360.0" stroke="#dbdbdb" stroke-width="0.9" fill="none"/>
<path d="M228.9 499.55 H360.0" stroke="#dbdbdb" stroke-width="0.9" fill="none"/>
<path d="M228.9 478.30 H360.0" stroke="#dbdbdb" stroke-width="0.9" fill="none"/>
<path d="M244.70 563.00 V560.88 M241.90 561.58 H247.50" stroke="#000" stroke-width="1.7" fill="none"/>
<rect x="233.00" y="563.60" width="23.4" height="42.20" fill="#b7e0ae" stroke="#000" stroke-width="1.4"/>
<path d="M277.67 560.88 V554.50 M274.87 555.20 H280.47" stroke="#000" stroke-width="1.7" fill="none"/>
<rect x="265.97" y="561.48" width="23.4" height="44.32" fill="#ffe591" stroke="#000" stroke-width="1.4"/>
<path d="M310.64 503.50 V499.25 M307.84 499.95 H313.44" stroke="#000" stroke-width="1.7" fill="none"/>
<rect x="298.94" y="504.10" width="23.4" height="101.70" fill="#fdc9a9" stroke="#000" stroke-width="1.4"/>
<text class="st" x="303.65 311.35" y="498.58" font-size="16.5">**</text>
<path d="M343.61 537.50 V533.25 M340.81 533.95 H346.41" stroke="#000" stroke-width="1.7" fill="none"/>
<rect x="331.91" y="538.10" width="23.4" height="67.70" fill="#b3d3ef" stroke="#000" stroke-width="1.4"/>
<text class="st" x="340.00" y="533.18" font-size="16.5">*</text>
<path d="M228.9 478.00 V605.80 H360.0" stroke="#000" stroke-width="2.0" fill="none" stroke-linejoin="miter"/>
<text class="b" transform="translate(219.90,608.55) scale(1.09,1)" font-size="8.8" text-anchor="end">0.0</text>
<path d="M228.9 584.55 h3.1" stroke="#000" stroke-width="1.3" fill="none"/>
<text class="b" transform="translate(219.90,587.30) scale(1.09,1)" font-size="8.8" text-anchor="end">0.5</text>
<path d="M228.9 563.30 h3.1" stroke="#000" stroke-width="1.3" fill="none"/>
<text class="b" transform="translate(219.90,566.05) scale(1.09,1)" font-size="8.8" text-anchor="end">1.0</text>
<path d="M228.9 542.05 h3.1" stroke="#000" stroke-width="1.3" fill="none"/>
<text class="b" transform="translate(219.90,544.80) scale(1.09,1)" font-size="8.8" text-anchor="end">1.5</text>
<path d="M228.9 520.80 h3.1" stroke="#000" stroke-width="1.3" fill="none"/>
<text class="b" transform="translate(219.90,523.55) scale(1.09,1)" font-size="8.8" text-anchor="end">2.0</text>
<path d="M228.9 499.55 h3.1" stroke="#000" stroke-width="1.3" fill="none"/>
<text class="b" transform="translate(219.90,502.30) scale(1.09,1)" font-size="8.8" text-anchor="end">2.5</text>
<path d="M228.9 478.30 h3.1" stroke="#000" stroke-width="1.3" fill="none"/>
<text class="b" transform="translate(219.90,481.05) scale(1.09,1)" font-size="8.8" text-anchor="end">3.0</text>
<text class="b" transform="translate(200.10,542.25) rotate(-90) scale(1.14,1)" font-size="8.6" text-anchor="middle"><tspan font-style="italic">ARF10</tspan> Expression</text>
<text class="b" transform="translate(374.60,467.20) scale(1.0,1)" font-size="13.0" text-anchor="start">J.</text>
<path d="M413.1 573.92 H543.2" stroke="#dbdbdb" stroke-width="0.9" fill="none"/>
<path d="M413.1 542.05 H543.2" stroke="#dbdbdb" stroke-width="0.9" fill="none"/>
<path d="M413.1 510.18 H543.2" stroke="#dbdbdb" stroke-width="0.9" fill="none"/>
<path d="M413.1 478.30 H543.2" stroke="#dbdbdb" stroke-width="0.9" fill="none"/>
<path d="M429.10 573.62 V572.03 M426.30 572.73 H431.90" stroke="#000" stroke-width="1.7" fill="none"/>
<rect x="417.40" y="574.23" width="23.4" height="31.57" fill="#b7e0ae" stroke="#000" stroke-width="1.4"/>
<path d="M461.75 574.26 V568.21 M458.95 568.91 H464.55" stroke="#000" stroke-width="1.7" fill="none"/>
<rect x="450.05" y="574.86" width="23.4" height="30.94" fill="#ffe591" stroke="#000" stroke-width="1.4"/>
<path d="M494.40 548.12 V546.53 M491.60 547.23 H497.20" stroke="#000" stroke-width="1.7" fill="none"/>
<rect x="482.70" y="548.73" width="23.4" height="57.07" fill="#fdc9a9" stroke="#000" stroke-width="1.4"/>
<text class="st" x="491.80" y="544.98" font-size="16.5">*</text>
<path d="M527.05 503.50 V493.94 M524.25 494.64 H529.85" stroke="#000" stroke-width="1.7" fill="none"/>
<rect x="515.35" y="504.10" width="23.4" height="101.70" fill="#b3d3ef" stroke="#000" stroke-width="1.4"/>
<text class="st" x="516.10 523.80 531.50" y="492.18" font-size="16.5">***</text>
<path d="M413.1 478.00 V605.80 H543.2" stroke="#000" stroke-width="2.0" fill="none" stroke-linejoin="miter"/>
<text class="b" transform="translate(404.10,608.55) scale(1.09,1)" font-size="8.8" text-anchor="end">0.0</text>
<path d="M413.1 573.92 h3.1" stroke="#000" stroke-width="1.3" fill="none"/>
<text class="b" transform="translate(404.10,576.67) scale(1.09,1)" font-size="8.8" text-anchor="end">1.0</text>
<path d="M413.1 542.05 h3.1" stroke="#000" stroke-width="1.3" fill="none"/>
<text class="b" transform="translate(404.10,544.80) scale(1.09,1)" font-size="8.8" text-anchor="end">2.0</text>
<path d="M413.1 510.18 h3.1" stroke="#000" stroke-width="1.3" fill="none"/>
<text class="b" transform="translate(404.10,512.92) scale(1.09,1)" font-size="8.8" text-anchor="end">3.0</text>
<path d="M413.1 478.30 h3.1" stroke="#000" stroke-width="1.3" fill="none"/>
<text class="b" transform="translate(404.10,481.05) scale(1.09,1)" font-size="8.8" text-anchor="end">4.0</text>
<text class="b" transform="translate(383.60,542.25) rotate(-90) scale(1.14,1)" font-size="8.6" text-anchor="middle"><tspan font-style="italic">ARF16</tspan> Expression</text>
<text class="bi" transform="translate(47.80,631.50) scale(0.99,1)" font-size="9.8" text-anchor="start">Key:</text>
<rect x="89.30" y="622.7" width="21.8" height="12.2" fill="#b7e0ae" stroke="#000" stroke-width="1.4"/>
<text class="bi" transform="translate(119.10,631.50) scale(0.99,1)" font-size="9.8" text-anchor="start">drb1</text>
<rect x="176.30" y="622.7" width="21.8" height="12.2" fill="#ffe591" stroke="#000" stroke-width="1.4"/>
<text class="bi" transform="translate(206.10,631.50) scale(0.99,1)" font-size="9.8" text-anchor="start">drb1/MIR160B</text>
<rect x="309.90" y="622.7" width="21.8" height="12.2" fill="#fdc9a9" stroke="#000" stroke-width="1.4"/>
<text class="bi" transform="translate(339.70,631.50) scale(0.99,1)" font-size="9.8" text-anchor="start">drb1/mARF10</text>
<rect x="443.50" y="622.7" width="21.8" height="12.2" fill="#b3d3ef" stroke="#000" stroke-width="1.4"/>
<text class="bi" transform="translate(473.30,631.50) scale(0.99,1)" font-size="9.8" text-anchor="start">drb1/mARF16</text>
<path d="M43 643.7 H544" stroke="#000" stroke-width="2.0" fill="none"/>
</svg>
</body>
</html>
